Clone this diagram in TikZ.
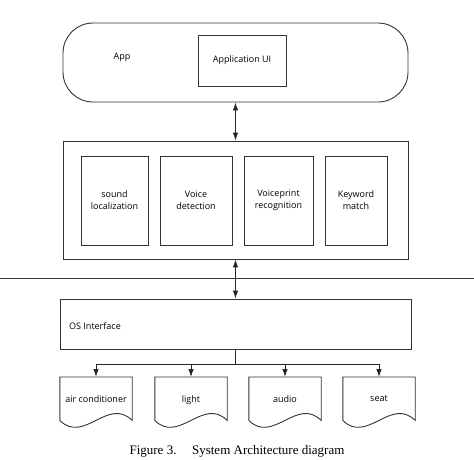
\documentclass[tikz,border=0pt]{standalone}
\usepackage{fontspec}
\newfontfamily\diagfont{Open Sans}
\newfontfamily\capfont{Liberation Serif}
\usetikzlibrary{arrows.meta}

\tikzset{
  box/.style={draw=black!80, line width=0.9pt, minimum width=#1},
  modbox/.style={box=#1, minimum height=89pt, align=center},
  docbox/.style={minimum width=72pt, minimum height=43pt, anchor=north, text depth=-6pt},
  outline/.style={draw=black!80, line width=0.9pt},
  link/.style={black!85, line width=0.9pt, -{Latex[length=8pt,width=5.5pt]}},
  both/.style={link, {Latex[length=8pt,width=5.5pt]}-{Latex[length=8pt,width=5.5pt]}},
}

\begin{document}
\begin{tikzpicture}[x=1pt, y=-1pt, font=\diagfont\fontsize{9}{12}\selectfont, inner sep=0pt]

\useasboundingbox (0,0) rectangle (474,459);

% application layer
\node [box=345pt, minimum height=79pt, rounded corners=30pt] (app) at (235.5,62.5) {};
\node (applbl) at (122,57) {App};
\node [box=88pt, minimum height=51pt] (appui) at (242,60.5) {Application UI};

% voice services
\node [box=345pt, minimum height=118pt] (core) at (235.5,200) {};
\node [modbox=67pt] (snd) at (114.5,200.5) {sound\\localization};
\node [modbox=72pt] (vdet) at (196,200.5) {Voice\\detection};
\node [modbox=69pt] (vpr) at (278.5,200.5) {Voiceprint\\recognition};
\node [modbox=62pt] (kwd) at (356,200.5) {Keyword\\match};

% separator
\coordinate (sepl) at (0,278);
\coordinate (sepr) at (474,278);
\draw [black!80, line width=0.9pt] (sepl) -- (sepr);

% system layer
\node [box=351pt, minimum height=50pt] (os) at (235.5,324) {};
\node [anchor=west] (oslbl) at (69,326) {OS Interface};

% devices
\node [docbox] (air) at (96,377) {air conditioner};
\node [docbox] (light) at (191,377) {light};
\node [docbox] (audio) at (285,377) {audio};
\node [docbox] (seat) at (379,377) {seat};

\begin{scope}[outline]
\draw (air.south west) -- (air.north west) -- (air.north east) -- (air.south east)
  .. controls ([xshift=12pt,yshift=24pt]air.south) and ([xshift=-12pt,yshift=-24pt]air.south) .. (air.south west);
\draw (light.south west) -- (light.north west) -- (light.north east) -- (light.south east)
  .. controls ([xshift=12pt,yshift=24pt]light.south) and ([xshift=-12pt,yshift=-24pt]light.south) .. (light.south west);
\draw (audio.south west) -- (audio.north west) -- (audio.north east) -- (audio.south east)
  .. controls ([xshift=12pt,yshift=24pt]audio.south) and ([xshift=-12pt,yshift=-24pt]audio.south) .. (audio.south west);
\draw (seat.south west) -- (seat.north west) -- (seat.north east) -- (seat.south east)
  .. controls ([xshift=12pt,yshift=24pt]seat.south) and ([xshift=-12pt,yshift=-24pt]seat.south) .. (seat.south west);
\end{scope}

% connectors
\coordinate (fork) at (235.5,364);
\draw [both] (app.south) -- (core.north); %app-core
\draw [both] (core.south) -- (os.north); %core-os
\draw [black!85, line width=0.9pt] (os.south) -- (fork);
\draw [link] (fork) -| (air.north); %os-air
\draw [link] (fork) -| (light.north); %os-light
\draw [link] (fork) -| (audio.north); %os-audio
\draw [link] (fork) -| (seat.north); %os-seat

% caption
\node [font=\capfont\fontsize{13}{15}\selectfont] (cap) at (237,451) {Figure 3.\hspace{1.2em}System Architecture diagram};

\end{tikzpicture}
\end{document}
